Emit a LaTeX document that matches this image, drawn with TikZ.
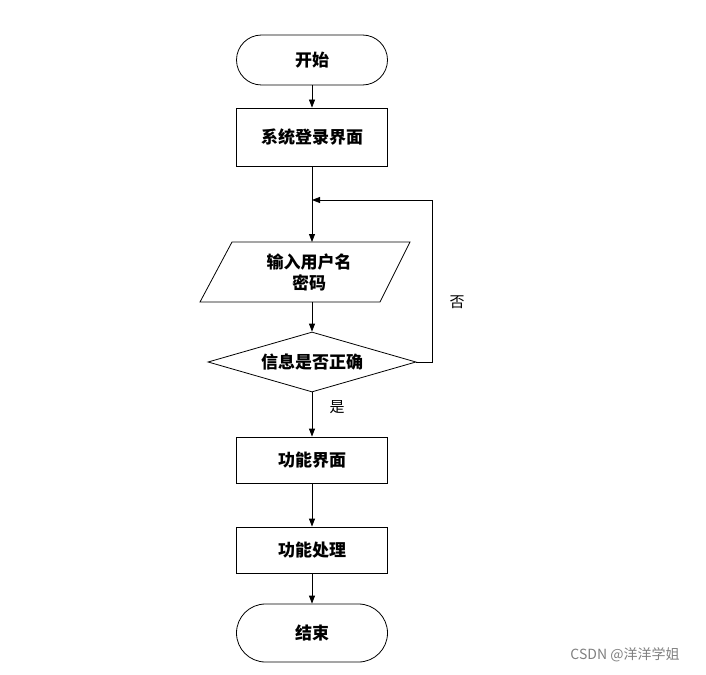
\documentclass[tikz,border=0pt]{standalone}
\usepackage{fontspec}
\newfontfamily\cjk{Noto Sans CJK SC}
\usetikzlibrary{shapes.geometric,arrows.meta}
\begin{document}
\begin{tikzpicture}[x=1pt,y=-1pt,
  box/.style={draw,thick,minimum width=151pt,minimum height=58pt,font=\cjk\bfseries\fontsize{17}{21}\selectfont},
  term/.style={box,rounded corners=25pt,minimum height=50pt},
  arr/.style={-{Triangle[length=8pt,width=6pt]},thick}]
\useasboundingbox (0,0) rectangle (706,674);
\node[term] (s) at (312,60) {开始};
\node[box] (l) at (312,137) {系统登录界面};
\draw[thick] (232,242) -- (410,242) -- (380,302) -- (200,302) -- cycle;
\node[align=center,font=\cjk\bfseries\fontsize{17}{21}\selectfont] (i) at (309,272) {输入用户名\\密码};
\coordinate (itop) at (312,242);
\coordinate (ibot) at (312,302);
\node[diamond,draw,thick,minimum width=208pt,minimum height=60pt,aspect=3.5,inner sep=0pt,font=\cjk\bfseries\fontsize{17}{21}\selectfont] (d) at (312,362) {信息是否正确};
\node[box,minimum height=46pt] (f) at (312,460) {功能界面};
\node[box,minimum height=46pt] (p) at (312,550) {功能处理};
\node[term,minimum height=58pt,rounded corners=29pt] (e) at (312,633) {结束};
\coordinate (j) at (312,200);
\coordinate (r) at (432,362);
\draw[arr] (s) -- (l);
\draw[arr] (l) -- (itop);
\draw[arr] (ibot) -- (d);
\draw[arr] (d) -- (f);
\node[font=\cjk\fontsize{15}{18}\selectfont] (yes) at (337,407) {是};
\draw[arr] (f) -- (p);
\draw[arr] (p) -- (e);
\draw[arr] (d.east) -- (r) -- (r |- j) -- (j);
\node[font=\cjk\fontsize{15}{18}\selectfont] (no) at (457,302) {否};
\node[font=\cjk\fontsize{14}{17}\selectfont,text=gray] (wm) at (625,655) {CSDN @洋洋学姐};
\end{tikzpicture}
\end{document}
